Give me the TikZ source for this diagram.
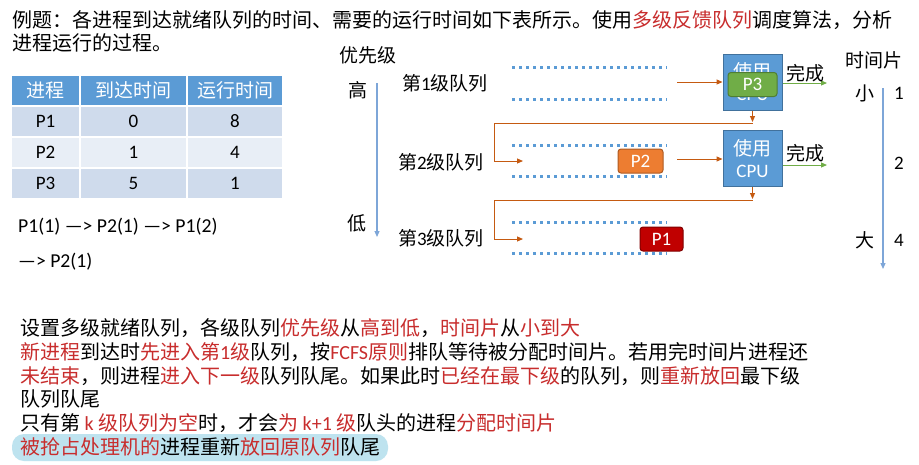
\documentclass[tikz,border=0pt]{standalone}
\usepackage{fontspec}
\setmainfont{Noto Sans CJK SC}
\newfontfamily\lat{Carlito}
\usetikzlibrary{arrows.meta}
\definecolor{hl}{RGB}{200,45,45}
\definecolor{qblue}{RGB}{91,155,213}
\definecolor{cpuborder}{RGB}{65,113,156}
\definecolor{ored}{RGB}{197,90,17}
\definecolor{ggreen}{RGB}{112,173,71}
\definecolor{gborder}{RGB}{80,126,50}
\definecolor{porange}{RGB}{237,125,49}
\definecolor{poborder}{RGB}{174,90,33}
\definecolor{pred}{RGB}{192,0,0}
\definecolor{prborder}{RGB}{128,0,0}
\definecolor{hdr}{RGB}{91,155,213}
\definecolor{rowa}{RGB}{207,219,236}
\definecolor{rowb}{RGB}{232,238,246}
\definecolor{pblue}{RGB}{126,166,216}
\definecolor{hlbg}{RGB}{190,227,239}
\newcommand{\R}[1]{\textcolor{hl}{#1}}
\begin{document}
\begin{tikzpicture}[x=1pt,y=-1pt,
  txt/.style={anchor=west, inner sep=0pt, font=\fontsize{20}{24}\selectfont},
  lbl/.style={inner sep=0pt, font=\fontsize{19}{22}\selectfont},
  cell/.style={draw=white, line width=1.5pt, minimum height=31pt, inner sep=0pt, font=\fontsize{19}{22}\selectfont},
  qdots/.style={draw=qblue, line width=3pt, dash pattern=on 3pt off 4pt},
  oarrow/.style={draw=ored, line width=1pt, -{Triangle[length=6pt,width=5pt]}},
  garrow/.style={draw=ggreen, line width=1pt, -{Triangle[length=6pt,width=5pt]}},
  parrow/.style={draw=pblue, line width=1.2pt, -{Triangle[length=6pt,width=5pt]}},
  cpubox/.style={rectangle, draw=cpuborder, fill=qblue, line width=1pt, minimum width=59pt, minimum height=56pt, inner sep=0pt, text=white, align=center, font=\fontsize{19}{22}\selectfont},
  proc/.style={rectangle, rounded corners=3pt, minimum height=24pt, inner sep=0pt, text=white, line width=1pt, font=\lat\fontsize{19}{22}\selectfont}
]
\useasboundingbox (0,0) rectangle (919,464);
\fill[white] (0,0) rectangle (919,464);

% title
\node[txt] (t1) at (12,20) {例题：各进程到达就绪队列的时间、需要的运行时间如下表所示。使用\R{多级反馈队列}调度算法，分析};
\node[txt] (t2) at (12,43) {进程运行的过程。};

% table
\node[cell, fill=hdr, text=white, minimum width=69pt] (h1) at (45.5,90.5) {进程};
\node[cell, fill=hdr, text=white, minimum width=107pt] (h2) at (133.5,90.5) {到达时间};
\node[cell, fill=hdr, text=white, minimum width=96pt] (h3) at (235,90.5) {运行时间};
\node[cell, fill=rowa, minimum width=69pt] (a1) at (45.5,121.5) {\lat P1};
\node[cell, fill=rowa, minimum width=107pt] (a2) at (133.5,121.5) {\lat 0};
\node[cell, fill=rowa, minimum width=96pt] (a3) at (235,121.5) {\lat 8};
\node[cell, fill=rowb, minimum width=69pt] (b1) at (45.5,152.5) {\lat P2};
\node[cell, fill=rowb, minimum width=107pt] (b2) at (133.5,152.5) {\lat 1};
\node[cell, fill=rowb, minimum width=96pt] (b3) at (235,152.5) {\lat 4};
\node[cell, fill=rowa, minimum width=69pt] (c1) at (45.5,183.5) {\lat P3};
\node[cell, fill=rowa, minimum width=107pt] (c2) at (133.5,183.5) {\lat 5};
\node[cell, fill=rowa, minimum width=96pt] (c3) at (235,183.5) {\lat 1};

\node[lbl, anchor=west, font=\lat\fontsize{19.7}{23}\selectfont] (s1) at (18,227) {P1(1) —> P2(1) —> P1(2)};
\node[lbl, anchor=west, font=\lat\fontsize{19.7}{23}\selectfont] (s2) at (18,262) {—> P2(1)};

% priority
\node[lbl] (prio) at (368,55) {优先级};
\node[lbl] (gao) at (358,90) {高};
\node[lbl] (di) at (357,223) {低};
\coordinate (pTop) at (377,83);
\coordinate (pBot) at (377,237);
\draw[parrow] (pTop) -- (pBot);

% queue labels
\node[lbl] (q1) at (445,83) {第{\lat 1}级队列};
\node[lbl] (q2) at (441,162) {第{\lat 2}级队列};
\node[lbl] (q3) at (441,238) {第{\lat 3}级队列};

% queues
\draw[qdots] (512,67) -- (667,67);
\draw[qdots] (512,99) -- (667,99);
\draw[qdots] (512,145) -- (667,145);
\draw[qdots] (512,176) -- (667,176);
\draw[qdots] (512,222) -- (667,222);
\draw[qdots] (512,253) -- (667,253);

% CPUs
\node[cpubox] (cpu1) at (752.5,82) {使用\\{\lat CPU}};
\node[cpubox] (cpu2) at (752.5,158.5) {使用\\{\lat CPU}};

% processes
\node[proc, fill=ggreen, draw=gborder, minimum width=49pt] (p3) at (752.5,84.5) {P3};
\node[proc, fill=porange, draw=poborder, minimum width=45pt] (p2) at (640.5,161) {P2};
\node[proc, fill=pred, draw=prborder, minimum width=43pt] (p1) at (661.5,239) {P1};

% arrows into CPU
\coordinate (in1) at (677,82);
\coordinate (in2) at (677,159);
\draw[oarrow] (in1) -- (cpu1.west |- in1);
\draw[oarrow] (in2) -- (cpu2.west |- in2);

% done arrows
\coordinate (d1) at (827,83);
\coordinate (d2) at (827,165);
\draw[garrow] (cpu1.east |- d1) -- (d1);
\draw[garrow] (cpu2.east |- d2) -- (d2);
\node[lbl] (w1) at (805,73) {完成};
\node[lbl] (w2) at (805,153) {完成};

% feedback
\coordinate (j1) at (752.5,122);
\coordinate (j2) at (752.5,199);
\coordinate (e2) at (523,161);
\coordinate (e3) at (523,239);
\draw[oarrow] (cpu1.south) -- (j1);
\draw[oarrow] ([yshift=-1pt]j1) -- (494,123) -- (494,161) -- (e2);
\draw[oarrow] (cpu2.south) -- (j2);
\draw[oarrow] ([yshift=-1pt]j2) -- (494,200) -- (494,239) -- (e3);

% time slice
\node[lbl] (ts) at (874,60) {时间片};
\node[lbl] (xiao) at (865,93) {小};
\node[lbl] (da) at (865,240) {大};
\node[lbl, font=\lat\fontsize{19}{22}\selectfont] (n1) at (899,93) {1};
\node[lbl, font=\lat\fontsize{19}{22}\selectfont] (n2) at (899,163) {2};
\node[lbl, font=\lat\fontsize{19}{22}\selectfont] (n4) at (899,240) {4};
\coordinate (tTop) at (883,88);
\coordinate (tBot) at (883,269);
\draw[parrow] (tTop) -- (tBot);

% bottom text
\fill[hlbg, rounded corners=12pt] (12,434) rectangle (388,461);
\node[txt] (b1) at (20,328) {设置多级就绪队列，各级队列\R{优先级}从\R{高到低}，\R{时间片}从\R{小到大}};
\node[txt] (b2) at (20,352) {\R{新进程}到达时\R{先进入第{\lat 1}级}队列，按\R{{\lat FCFS}原则}排队等待被分配时间片。若用完时间片进程还};
\node[txt] (b3) at (20,376) {\R{未结束}，则进程\R{进入下一级}队列队尾。如果此时\R{已经在最下级}的队列，则\R{重新放回}最下级};
\node[txt] (b4) at (20,399) {队列队尾};
\node[txt] (b5) at (20,423) {只有第 \R{{\lat k} 级队列为空}时，才会\R{为 {\lat k+1} 级}队头的进程\R{分配时间片}};
\node[txt] (b6) at (20,447) {\R{被抢占处理机的}进程重新\R{放回原队列}队尾};
\end{tikzpicture}
\end{document}
